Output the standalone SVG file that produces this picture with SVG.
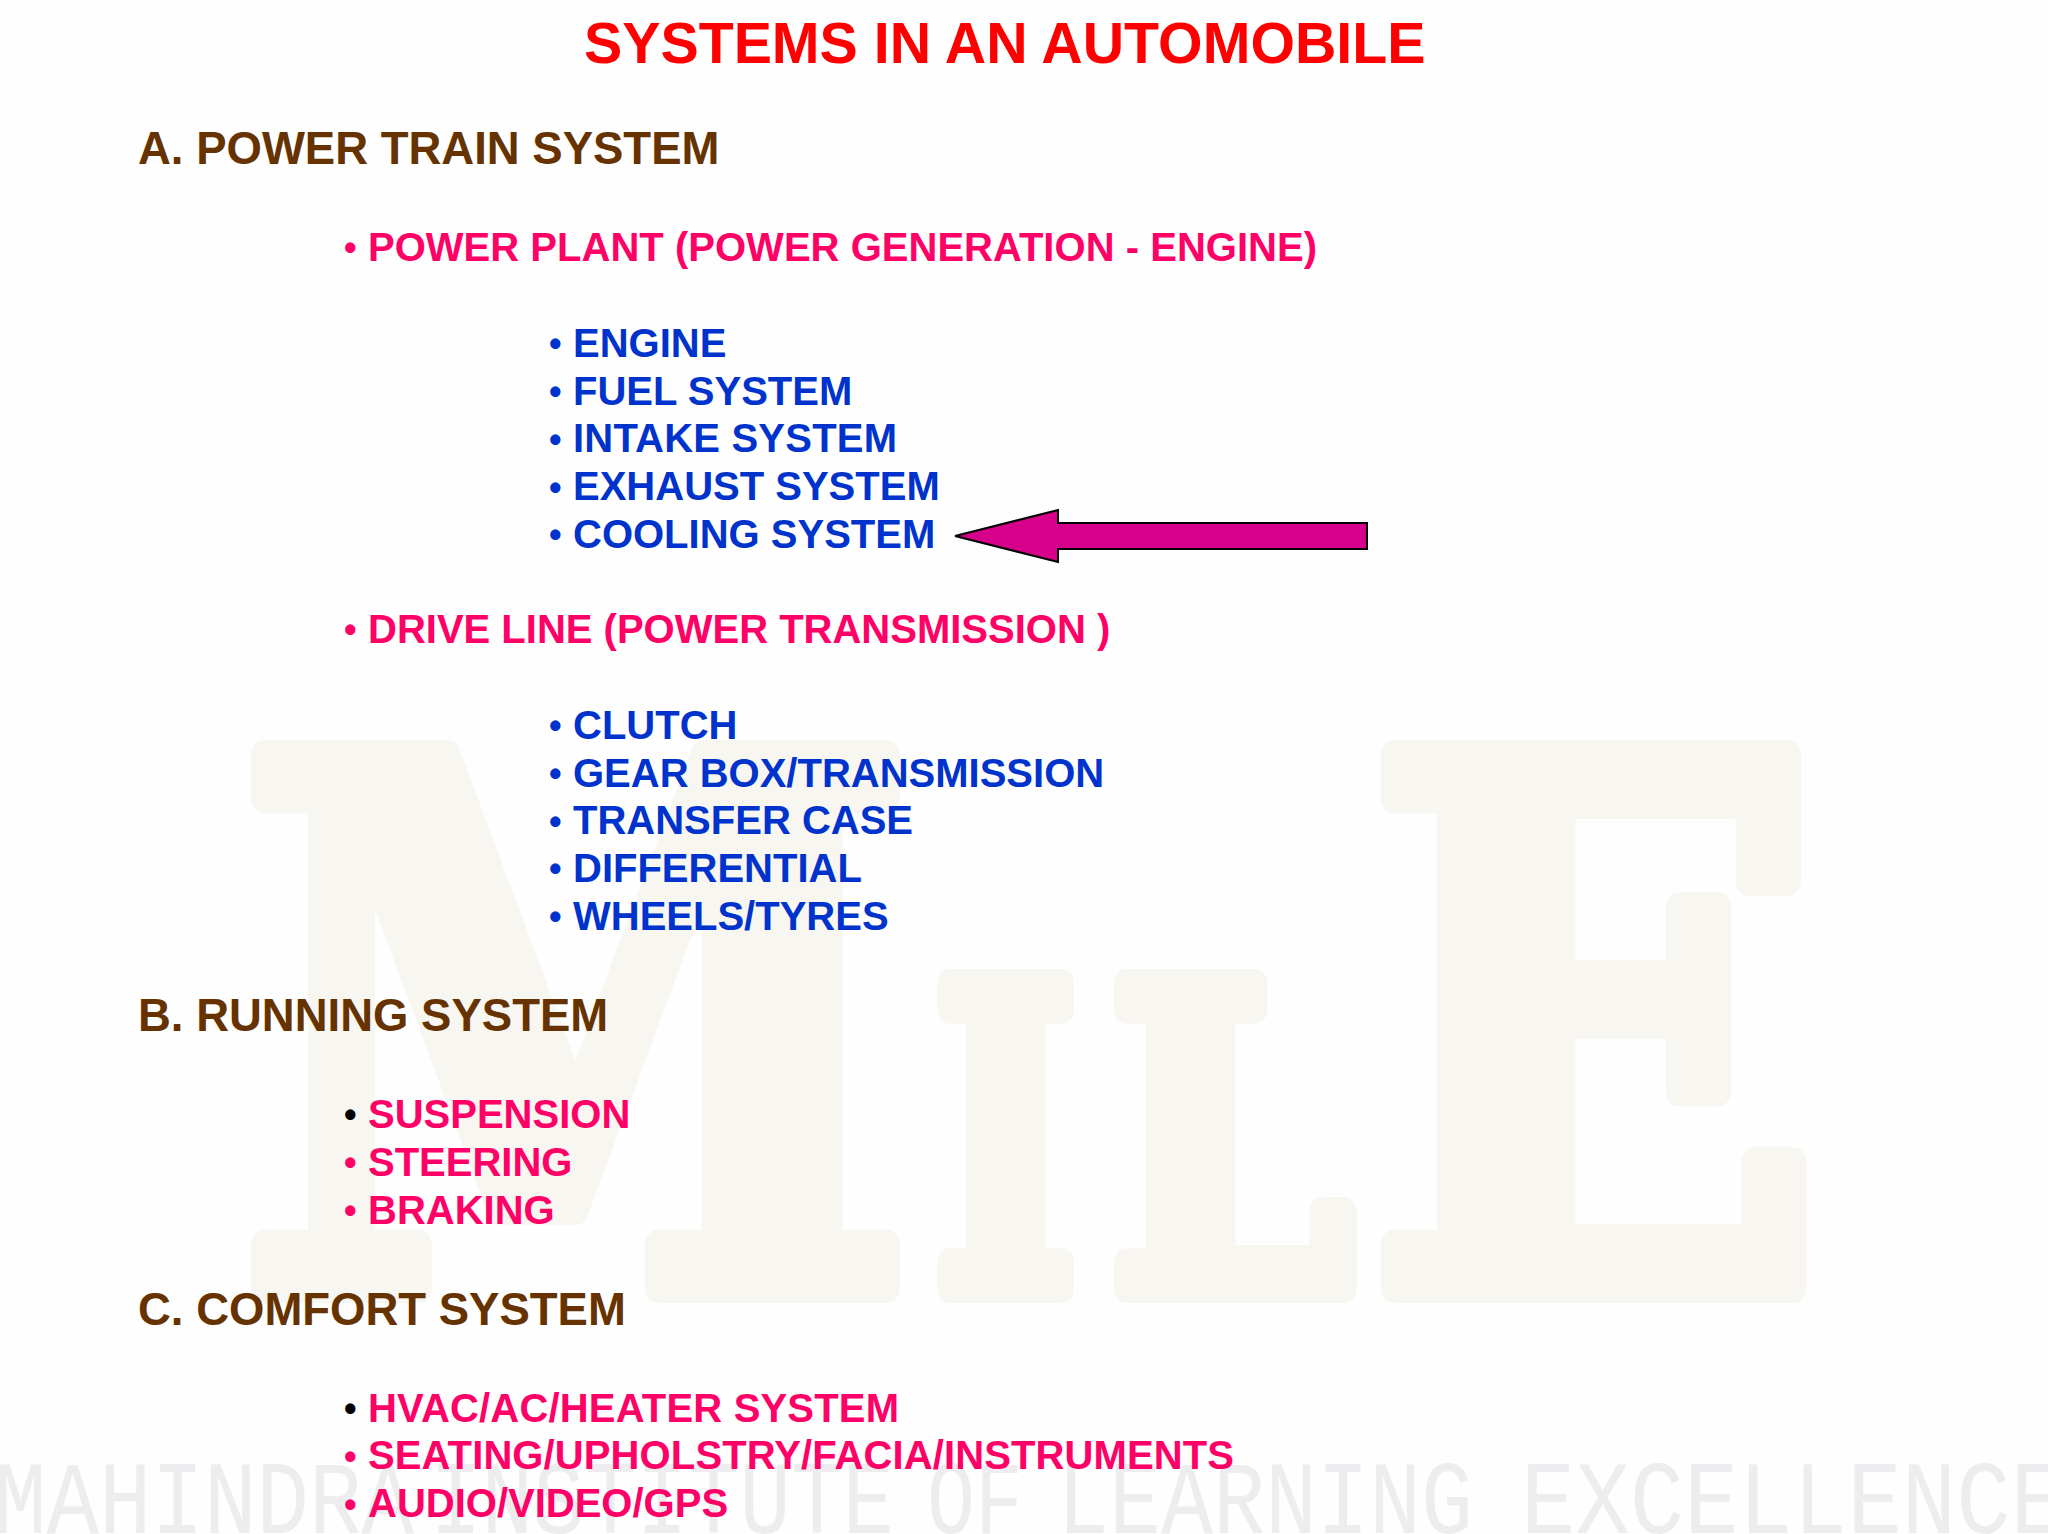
<svg xmlns="http://www.w3.org/2000/svg" width="2048" height="1534" viewBox="0 0 2048 1534">
<style>
text{font-family:"Liberation Sans",Arial,sans-serif;font-weight:700}
.title{font-size:57.3px;fill:#ff0000}
.h{font-size:45.5px;fill:#663300}
.p{font-size:40px;fill:#ff0066}
.b{font-size:40px;fill:#0033cc}
.dp{font-size:36px;fill:#ff0066}
.db{font-size:36px;fill:#0033cc}
.dk{font-size:36px;fill:#000}
.wm{font-family:"DejaVu Serif",serif;fill:#f8f6f1;stroke:#f8f6f1;stroke-width:30px;stroke-linejoin:round}
.wb{font-family:"Liberation Mono",monospace;font-weight:400;font-size:104px;fill:#edecee}
</style>
<rect width="2048" height="1534" fill="#fefefe"/>
<g id="watermark">
<text class="wm" x="238" y="1288" font-size="731" textLength="678" lengthAdjust="spacingAndGlyphs">M</text>
<text class="wm" x="934" y="1288" font-size="417" textLength="143" lengthAdjust="spacingAndGlyphs">I</text>
<text class="wm" x="1110" y="1288" font-size="417" textLength="242" lengthAdjust="spacingAndGlyphs">L</text>
<text class="wm" x="1365" y="1288" font-size="731" textLength="460" lengthAdjust="spacingAndGlyphs">E</text>
<text class="wb" x="-6" y="1533" textLength="420" lengthAdjust="spacingAndGlyphs">MAHINDRA</text>
<text class="wb" x="430" y="1533" textLength="464" lengthAdjust="spacingAndGlyphs">INSTITUTE</text>
<text class="wb" x="927" y="1533" textLength="96" lengthAdjust="spacingAndGlyphs">OF</text>
<text class="wb" x="1057" y="1533" textLength="416" lengthAdjust="spacingAndGlyphs">LEARNING</text>
<text class="wb" x="1521" y="1533" textLength="544" lengthAdjust="spacingAndGlyphs">EXCELLENCE</text>
</g>
<g id="title"><text class="title" x="584" y="63">SYSTEMS IN AN AUTOMOBILE</text></g>
<g id="sec-a"><text class="h" x="138" y="164">A. POWER TRAIN SYSTEM</text></g>
<g id="power-plant"><text class="dp" x="344" y="260">•</text><text class="p" x="368" y="261" textLength="949" lengthAdjust="spacing">POWER PLANT (POWER GENERATION - ENGINE)</text></g>
<g id="engine"><text class="db" x="549" y="356">•</text><text class="b" x="573" y="357">ENGINE</text></g>
<g id="fuel"><text class="db" x="549" y="404">•</text><text class="b" x="573" y="405">FUEL SYSTEM</text></g>
<g id="intake"><text class="db" x="549" y="452">•</text><text class="b" x="573" y="452" textLength="324" lengthAdjust="spacing">INTAKE SYSTEM</text></g>
<g id="exhaust"><text class="db" x="549" y="500">•</text><text class="b" x="573" y="500">EXHAUST SYSTEM</text></g>
<g id="cooling"><text class="db" x="549" y="547">•</text><text class="b" x="573" y="548">COOLING SYSTEM</text></g>
<g id="connectors"><path d="M955 536L1058 510V523H1367V549H1058V562Z" fill="#d6008c" stroke="#000" stroke-width="2"/></g>
<g id="drive-line"><text class="dp" x="344" y="642">•</text><text class="p" x="368" y="643">DRIVE LINE (POWER TRANSMISSION )</text></g>
<g id="clutch"><text class="db" x="549" y="738">•</text><text class="b" x="573" y="739">CLUTCH</text></g>
<g id="gearbox"><text class="db" x="549" y="786">•</text><text class="b" x="573" y="787">GEAR BOX/TRANSMISSION</text></g>
<g id="transfer"><text class="db" x="549" y="834">•</text><text class="b" x="573" y="834">TRANSFER CASE</text></g>
<g id="differential"><text class="db" x="549" y="881">•</text><text class="b" x="573" y="882">DIFFERENTIAL</text></g>
<g id="wheels"><text class="db" x="549" y="929">•</text><text class="b" x="573" y="930">WHEELS/TYRES</text></g>
<g id="sec-b"><text class="h" x="138" y="1031">B. RUNNING SYSTEM</text></g>
<g id="suspension"><text class="dk" x="344" y="1127">•</text><text class="p" x="368" y="1128">SUSPENSION</text></g>
<g id="steering"><text class="dp" x="344" y="1175">•</text><text class="p" x="368" y="1176">STEERING</text></g>
<g id="braking"><text class="dp" x="344" y="1223">•</text><text class="p" x="368" y="1224">BRAKING</text></g>
<g id="sec-c"><text class="h" x="138" y="1325">C. COMFORT SYSTEM</text></g>
<g id="hvac"><text class="dk" x="344" y="1421">•</text><text class="p" x="368" y="1422" textLength="531" lengthAdjust="spacing">HVAC/AC/HEATER SYSTEM</text></g>
<g id="seating"><text class="dp" x="344" y="1469">•</text><text class="p" x="368" y="1469" textLength="866" lengthAdjust="spacing">SEATING/UPHOLSTRY/FACIA/INSTRUMENTS</text></g>
<g id="audio"><text class="dp" x="344" y="1517">•</text><text class="p" x="368" y="1517">AUDIO/VIDEO/GPS</text></g>
</svg>
